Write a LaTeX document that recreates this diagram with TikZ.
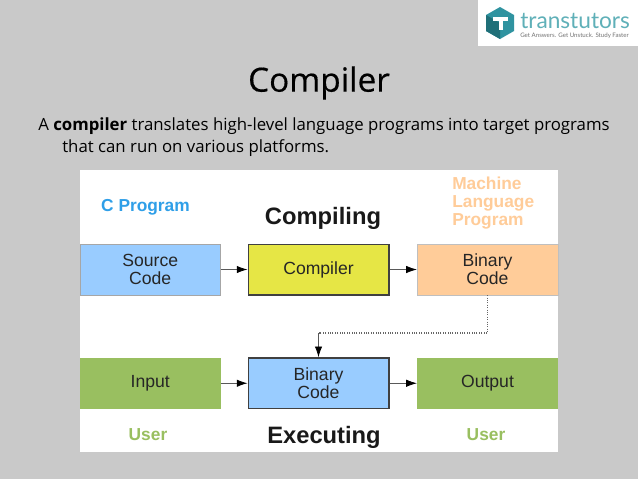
\documentclass[tikz,border=0pt]{standalone}
\usepackage{fontspec}
\setmainfont{Open Sans}
\newfontfamily\titlefont[FakeBold=0.4]{Open Sans}
\newfontfamily\diagfont{Liberation Sans}
\newfontfamily\logofont{Lato}
\usepackage{xcolor}
\usetikzlibrary{arrows.meta}
\definecolor{slidegrey}{HTML}{C9C9C9}
\definecolor{srcblue}{HTML}{99CCFF}
\definecolor{compyellow}{HTML}{E6E645}
\definecolor{binorange}{HTML}{FFCC99}
\definecolor{iogreen}{HTML}{99BF60}
\definecolor{logoteal}{HTML}{5FB0B8}
\definecolor{logodark}{HTML}{1F6F78}
\definecolor{hexteal}{HTML}{2F93A0}
\definecolor{progblue}{HTML}{2F9FE8}
\begin{document}
\begin{tikzpicture}[x=0.75pt,y=-0.75pt]
\tikzstyle{every node}=[inner sep=0pt]
\tikzstyle{flatbox}=[minimum width=105.5pt,minimum height=38pt,align=center,text=black!85,font=\diagfont\fontsize{13.2}{13.5}\selectfont]
\tikzstyle{darkbox}=[flatbox,draw=black!75,line width=1pt]
\tikzstyle{tag}=[font=\diagfont\bfseries\fontsize{13}{13.5}\selectfont,align=left]
\tikzstyle{heading}=[font=\diagfont\bfseries\fontsize{17.8}{20}\selectfont,text=black!90]
\tikzstyle{line}=[font=\fontsize{12.6}{14}\selectfont,anchor=base west]
\tikzstyle{flow}=[draw=black!65,line width=0.6pt,-{Latex[length=8pt,width=5.5pt,black]}]
\fill [slidegrey] (0,0) rectangle (638,479);
\useasboundingbox (0,0) rectangle (638,479);
% logo
\fill [white] (478,0) rectangle (638,46);
\fill [hexteal] (500,7) -- (514,15) -- (514,31) -- (500,39) -- (486,31) -- (486,15) -- cycle;
\fill [logodark] (486,15) -- (486,31) -- (500,39) -- (500,23) -- cycle;
\fill [white] (493,17) rectangle (508,21);
\fill [white] (498.5,17) rectangle (502.5,30);
\node [anchor=base west,text=logoteal,font=\logofont\fontsize{17}{19}\selectfont] (logoname) at (520,28) {transtutors};
\node [anchor=base west,text=black!55,font=\logofont\fontsize{4.6}{6}\selectfont] (logoline) at (520,37) {Get Answers. Get Unstuck. Study Faster};
% slide text
\node [font=\titlefont\fontsize{25}{28}\selectfont,text=black] (title) at (319,83) {Compiler};
\node [line] (textone) at (38,130) {A \textbf{compiler} translates high-level language programs into target programs};
\node [line] (texttwo) at (62,152) {that can run on various platforms.};
% panel
\fill [white] (80,170) rectangle (558,452);
\node [flatbox,fill=srcblue,draw=black!35] (source) at (150.25,269.5) {Source\\Code};
\node [darkbox,fill=compyellow] (compiler) at (318.5,269.5) {\raisebox{-1pt}{Compiler}};
\node [flatbox,fill=binorange,draw=black!25] (binarytop) at (487.5,269.5) {Binary\\Code};
\node [flatbox,fill=iogreen] (input) at (150.25,383.25) {Input};
\node [darkbox,fill=srcblue] (binary) at (318.5,383.25) {Binary\\Code};
\node [flatbox,fill=iogreen] (output) at (487.5,383.25) {Output};
\node [tag,text=progblue] (cprog) at (145.5,207) {C Program};
\node [tag,text=binorange,anchor=north west] (machine) at (452,177) {Machine\\Language\\Program};
\node [heading] (compiling) at (323,218) {Compiling};
\node [heading] (executing) at (324,437) {Executing};
\node [tag,text=iogreen] (userleft) at (148,434.5) {User};
\node [tag,text=iogreen] (userright) at (486,434.5) {User};
\coordinate (turnright) at (binarytop.south |- 0,333);
\coordinate (turnleft) at (binary.north |- 0,333);
\draw [flow] (source) -- (compiler);
\draw [flow] (compiler) -- (binarytop);
\draw [flow] (input) -- (binary);
\draw [flow] (binary) -- (output);
\draw [black!60,line width=0.8pt,densely dotted] (binarytop.south) -- (turnright) -- (turnleft);
\draw [flow] (turnleft) -- (binary.north);
\end{tikzpicture}
\end{document}
